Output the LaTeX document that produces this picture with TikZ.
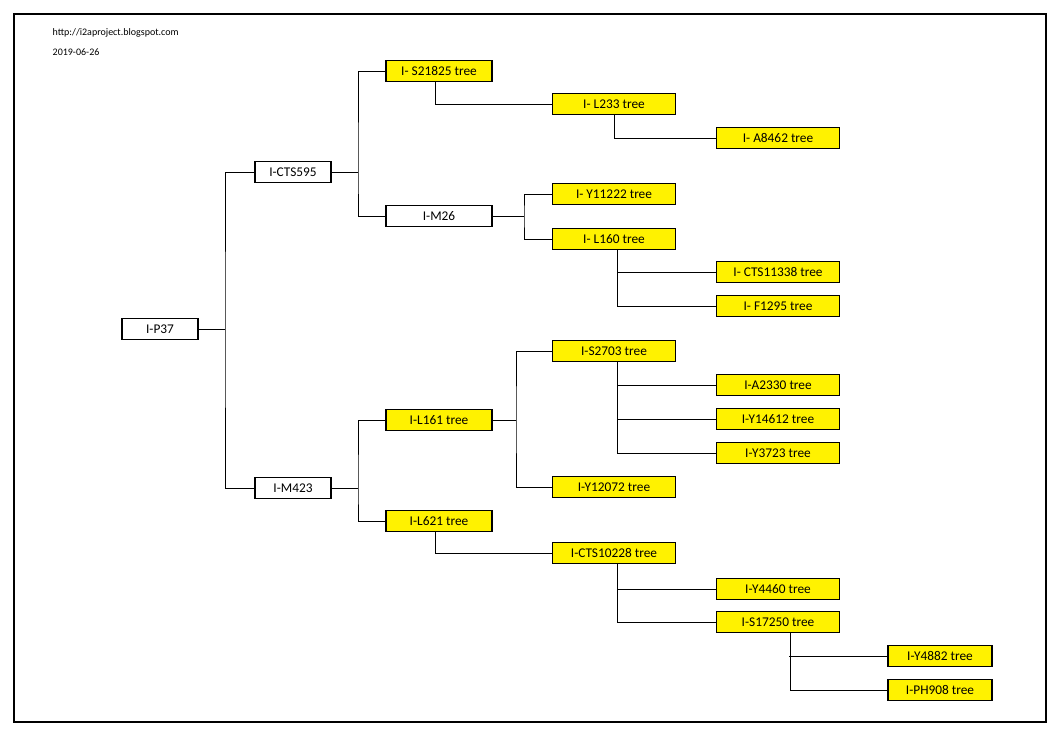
\documentclass[tikz,border=0pt]{standalone}
\usetikzlibrary{calc}
\usepackage{fontspec}
\setmainfont{Carlito}
\begin{document}
\begin{tikzpicture}[x=0.75pt,y=-0.75pt,
  box/.style={draw=black,line width=1.1pt,inner sep=0pt,minimum height=16pt,font=\fontsize{10}{12}\selectfont},
  wb/.style={box,fill=white},
  yb/.style={box,fill=yellow},
  w1/.style={minimum width=57pt},
  w2/.style={minimum width=79.5pt},
  w3/.style={minimum width=92pt},
  w4/.style={minimum width=78pt},
  ln/.style={draw=black,line width=0.6pt}]
\useasboundingbox (0,0) rectangle (1059,733);
\draw[line width=1.5pt] (14,14) rectangle (1046,722);
\node[anchor=west,font=\fontsize{7.5}{9}\selectfont] (h1) at (48,33) {http://i2aproject.blogspot.com};
\node[anchor=west,font=\fontsize{7.5}{9}\selectfont] (h2) at (48,52) {2019-06-26};
\node[wb,w1] (p37) at (160,329) {I-P37};
\node[wb,w1] (cts595) at (293,172) {I-CTS595};
\node[wb,w1] (m423) at (293,488) {I-M423};
\node[yb,w2] (s21825) at (439,71) {I- S21825 tree};
\node[wb,w2] (m26) at (439,216) {I-M26};
\node[yb,w2] (l161) at (439,420) {I-L161 tree};
\node[yb,w2] (l621) at (439,521) {I-L621 tree};
\node[yb,w3] (l233) at (614,104) {I- L233 tree};
\node[yb,w3] (y11222) at (614,194) {I- Y11222 tree};
\node[yb,w3] (l160) at (614,239) {I- L160 tree};
\node[yb,w3] (s2703) at (614,351) {I-S2703 tree};
\node[yb,w3] (y12072) at (614,487) {I-Y12072 tree};
\node[yb,w3] (cts10228) at (614,553) {I-CTS10228 tree};
\node[yb,w3] (a8462) at (778,138) {I- A8462 tree};
\node[yb,w3] (cts11338) at (778,272) {I- CTS11338 tree};
\node[yb,w3] (f1295) at (778,306) {I- F1295 tree};
\node[yb,w3] (a2330) at (778,385) {I-A2330 tree};
\node[yb,w3] (y14612) at (778,419) {I-Y14612 tree};
\node[yb,w3] (y3723) at (778,453) {I-Y3723 tree};
\node[yb,w3] (y4460) at (778,589) {I-Y4460 tree};
\node[yb,w3] (s17250) at (778,622) {I-S17250 tree};
\node[yb,w4] (y4882) at (940,656) {I-Y4882 tree};
\node[yb,w4] (ph908) at (940,690) {I-PH908 tree};
% buses
\coordinate (b1) at (225,329);
\draw[ln] (p37.east) -- (b1);
\draw[ln] (cts595.west) -| (b1) |- (m423.west);
\coordinate (b2) at (358,172);
\draw[ln] (cts595.east) -- (b2);
\draw[ln] (s21825.west) -| (b2) |- (m26.west);
\coordinate (b3) at (524,216);
\draw[ln] (m26.east) -- (b3);
\draw[ln] (y11222.west) -| (b3) |- (l160.west);
\coordinate (b4) at (516,420);
\draw[ln] (l161.east) -- (b4);
\draw[ln] (s2703.west) -| (b4) |- (y12072.west);
\coordinate (b5) at (358,488);
\draw[ln] (m423.east) -- (b5);
\draw[ln] (l161.west) -| (b5) |- (l621.west);
% drop-downs
\draw[ln] ($(s21825.south)+(-4,0)$) |- (l233.west);
\draw[ln] (l233.south) |- (a8462.west);
\draw[ln] ($(l160.south)+(3,0)$) |- (f1295.west);
\draw[ln] (cts11338.west) -| ($(l160.south)+(3,0)$);
\draw[ln] ($(s2703.south)+(3,0)$) |- (y3723.west);
\draw[ln] (a2330.west) -- ++(-99,0);
\draw[ln] (y14612.west) -- ++(-99,0);
\draw[ln] ($(l621.south)+(-4,0)$) |- (cts10228.west);
\draw[ln] ($(cts10228.south)+(3,0)$) |- (s17250.west);
\draw[ln] (y4460.west) -- ++(-99,0);
\draw[ln] ($(s17250.south)+(12,0)$) |- (ph908.west);
\draw[ln] (y4882.west) -- ++(-98,0);
\end{tikzpicture}
\end{document}
